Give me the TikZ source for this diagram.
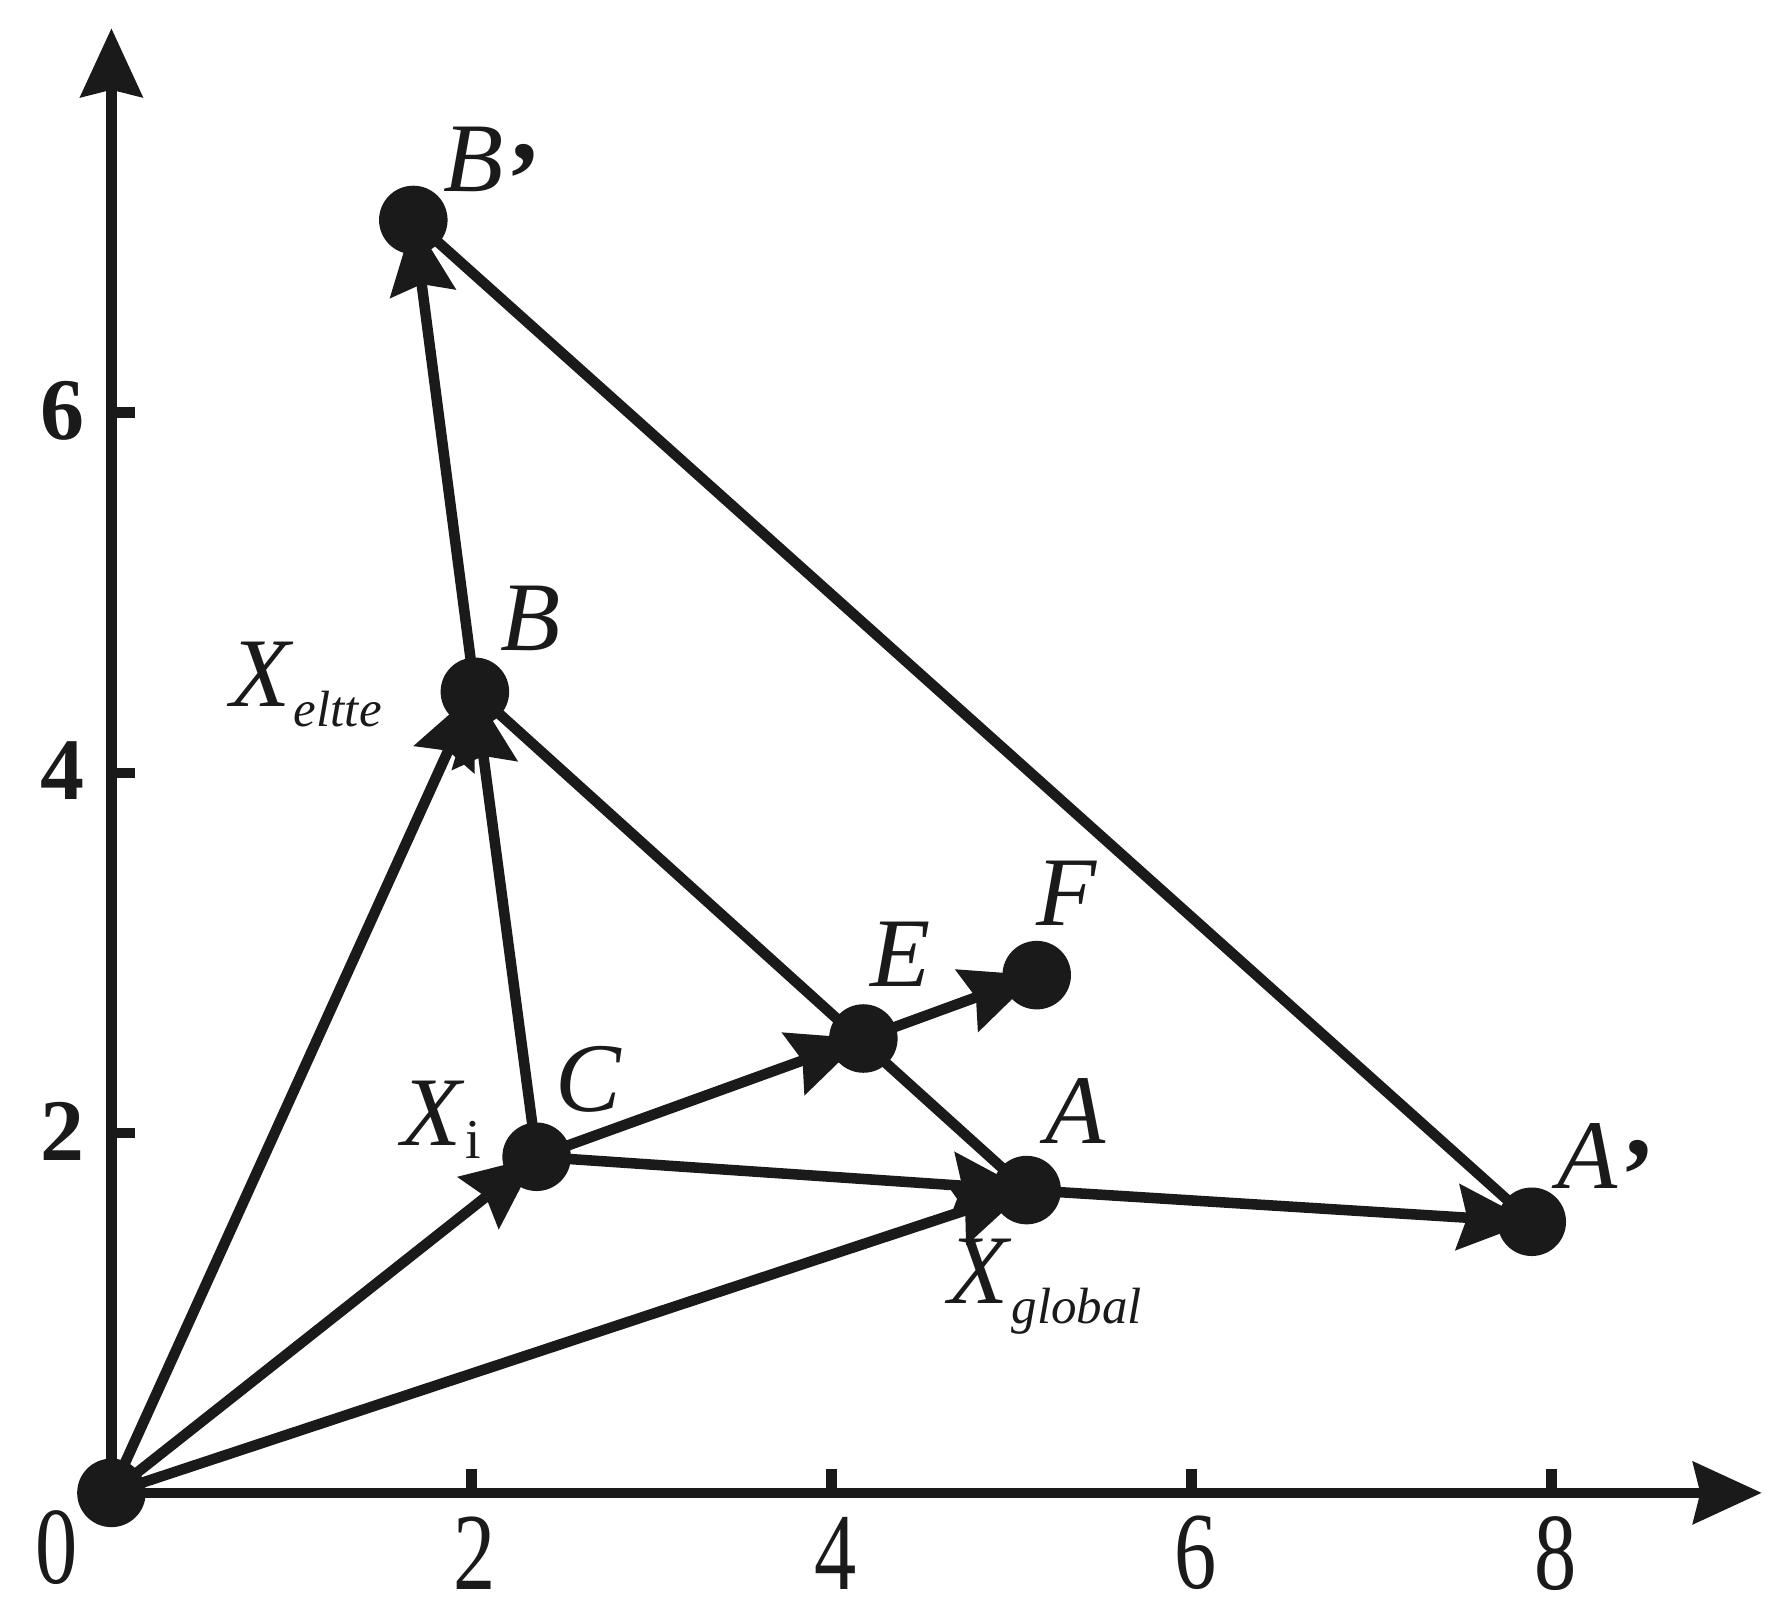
\documentclass[tikz,border=0pt]{standalone}
\usepackage{fontspec}
\setmainfont{Liberation Serif}
\usetikzlibrary{arrows.meta}
\definecolor{ink}{HTML}{1A1A1A}
\newcommand\xsub[2][5.7pt]{\textit{X}\kern1pt\raisebox{-#1}{\fontsize{14.5}{15}\selectfont\itshape #2}}
\newcommand\xsubi{\textit{X}\kern1pt\raisebox{-3.7pt}{\fontsize{16}{17}\selectfont\upshape i}}
\newcommand\primed[1]{\textit{#1}\kern1pt\raisebox{-6.5pt}{\fontsize{30}{30}\selectfont\bfseries\upshape ’}}
\begin{document}
\begin{tikzpicture}[x=1.8cm,y=1.8cm,
  line width=3pt, draw=ink,
  conn/.style={draw=ink,-{Stealth[length=21pt,width=18.5pt,inset=2.6pt]}},
  plain/.style={draw=ink},
  axisline/.style={draw=ink,-{Stealth[length=19.5pt,width=17.5pt,inset=2pt]}},
  dot/.style={circle,fill=ink,draw=none,inner sep=0pt,minimum size=19.5pt},
  lbl/.style={anchor=base west,inner sep=0pt,text=ink,font=\fontsize{28}{30}\selectfont\itshape},
  ylab/.style={inner sep=0pt,text=ink,font=\fontsize{25}{26}\selectfont\bfseries},
  xlab/.style={inner sep=0pt,text=ink}]
\useasboundingbox (-0.619,-0.702) rectangle (9.308,8.293);
% points
\coordinate (O) at (0,0);
\coordinate (Bp) at (1.677,7.071);
\coordinate (B) at (2.019,4.450);
\coordinate (C) at (2.362,1.867);
\coordinate (E) at (4.177,2.524);
\coordinate (F) at (5.140,2.876);
\coordinate (A) at (5.084,1.682);
\coordinate (Ap) at (7.890,1.506);
\coordinate (Yend) at (0,8.136);
\coordinate (Xend) at (9.168,0);
% axes
\draw[axisline] (O) -- (Yend);
\draw[axisline] (O) -- (Xend);
\foreach \v in {2,4,6,8} \draw[ink] (\v,0) -- ++(0,0.133);
\foreach \v in {2,4,6} \draw[ink] (0,\v) -- ++(0.133,0);
% axis labels
\node[xlab] (l0) at (-0.303,-0.305) {\scalebox{1}[1.3]{\fontsize{24}{24}\selectfont 0}};
\foreach \v in {2,4,6,8}
  \node[xlab] (lx\v) at (\v+0.02,-0.335) {\scalebox{1}[1.3]{\fontsize{24}{24}\selectfont \v}};
\foreach \v in {2,4,6}
  \node[ylab] (ly\v) at (-0.271,\v+0.01) {\v};
% connectors
\draw[plain] (B) -- (A);
\draw[plain] (Bp) -- (Ap);
\draw[conn] (O) -- (B);
\draw[conn] (O) -- (C);
\draw[conn] (O) -- (A);
\draw[conn] (C) -- (B);
\draw[conn] (B) -- (Bp);
\draw[conn] (C) -- (A);
\draw[conn] (A) -- (Ap);
\draw[conn] (C) -- (E);
\draw[conn] (E) -- (F);
% dots
\foreach \p in {O,Bp,B,C,E,F,A,Ap} \node[dot] (d\p) at (\p) {};
% labels
\node[lbl] (tBp) at (1.814,7.229) {\primed{B}};
\node[lbl] (tB) at (2.131,4.682) {B};
\node[lbl] (tXe) at (0.631,4.367) {\xsub{eltte}};
\node[lbl] (tXi) at (1.584,1.932) {\xsubi};
\node[lbl] (tC) at (2.436,2.117) {C};
\node[lbl] (tE) at (4.186,2.811) {E};
\node[lbl] (tF) at (5.108,3.154) {F};
\node[lbl] (tA) at (5.158,1.941) {A};
\node[lbl] (tXg) at (4.619,1.054) {\xsub{global}};
\node[lbl] (tAp) at (8.001,1.693) {\primed{A}};
\end{tikzpicture}
\end{document}
